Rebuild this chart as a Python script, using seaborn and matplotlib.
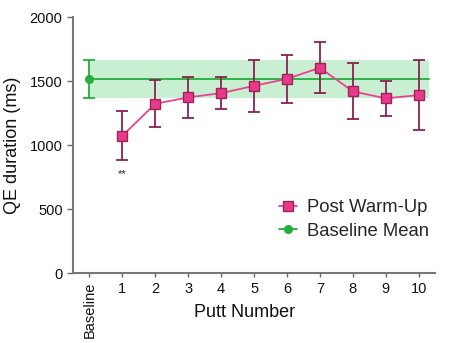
import matplotlib
matplotlib.use("Agg")
import matplotlib.pyplot as plt
import seaborn as sns
import pandas as pd
import numpy as np
from matplotlib.lines import Line2D

# QE duration per putt after warm-up (mean ± SD), plus baseline
putts = [1, 2, 3, 4, 5, 6, 7, 8, 9, 10]
post_mean = [1073, 1323, 1373, 1406, 1463, 1518, 1604, 1420, 1365, 1391]
post_sd = [190, 185, 160, 125, 205, 190, 200, 218, 138, 271]
baseline_mean = 1515
baseline_sd = 150
tick_labels = ["Baseline", "1", "2", "3", "4", "5", "6", "7", "8", "9", "10"]

sns.set_style("ticks")
plt.rcParams["font.family"] = ["Liberation Sans", "DejaVu Sans"]

pink = "#e8398a"
pink_edge = "#9c2458"
pink_line = "#e8438e"
err_col = "#8b2252"
green = "#22b03c"
band = "#c9efd2"

fig = plt.figure(figsize=(4.74, 3.43), dpi=100)
ax = fig.add_axes([0.154, 0.204, 0.764, 0.746])

df = pd.DataFrame({"putt": putts, "qe": post_mean})

# baseline band and mean line
ax.fill_between([0, 10.3], baseline_mean - baseline_sd, baseline_mean + baseline_sd,
                color=band, lw=0, zorder=0)
ax.plot([0, 10.3], [baseline_mean, baseline_mean], color=green, lw=1.3, zorder=1)
ax.errorbar([0], [baseline_mean], yerr=[baseline_sd], fmt="none", ecolor=green,
            elinewidth=1.3, capsize=4, capthick=1.3, zorder=2)
ax.plot([0], [baseline_mean], "o", color=green, ms=5.5, zorder=3)

# post warm-up series
ax.errorbar(putts, post_mean, yerr=post_sd, fmt="none", ecolor=err_col,
            elinewidth=1.3, capsize=4, capthick=1.3, zorder=2)
sns.lineplot(data=df, x="putt", y="qe", ax=ax, color=pink_line, lw=1.3,
             marker="s", markersize=7, markerfacecolor=pink,
             markeredgecolor=pink_edge, markeredgewidth=1.0, zorder=4)

ax.text(1, 775, "**", ha="center", va="center", fontsize=8, color="#222222")

ax.set_xlim(-0.5, 10.5)
ax.set_ylim(0, 2000)
ax.set_yticks([0, 500, 1000, 1500, 2000])
ax.set_xticks(range(11))
ax.set_xticklabels(tick_labels)
for lbl in ax.get_xticklabels():
    if lbl.get_text() == "Baseline":
        lbl.set_rotation(90)
        lbl.set_fontsize(9.5)
ax.tick_params(axis="both", labelsize=10.5, colors="#111111", length=4,
               width=1, color="#666666")
ax.tick_params(axis="x", length=3)
ax.set_xlabel("Putt Number", fontsize=13, color="#111111")
ax.xaxis.set_label_coords(0.473, -0.155)
ax.xaxis.label.set_va("center")
ax.set_ylabel("QE duration (ms)", fontsize=13, color="#111111", labelpad=6)

for s in ["left", "bottom"]:
    ax.spines[s].set_color("#777777")
    ax.spines[s].set_linewidth(1.5)
sns.despine(ax=ax)

handles = [
    Line2D([], [], color=pink_line, lw=1.3, marker="s", ms=7,
           markerfacecolor=pink, markeredgecolor=pink_edge),
    Line2D([], [], color=green, lw=1.3, marker="o", ms=5.5),
]
ax.legend(handles, ["Post Warm-Up", "Baseline Mean"], loc="lower right",
          bbox_to_anchor=(1.028, 0.065), frameon=False, fontsize=13.3,
          handlelength=1.0, handletextpad=0.5, labelspacing=0.35)

fig.savefig("out.png", dpi=100)
